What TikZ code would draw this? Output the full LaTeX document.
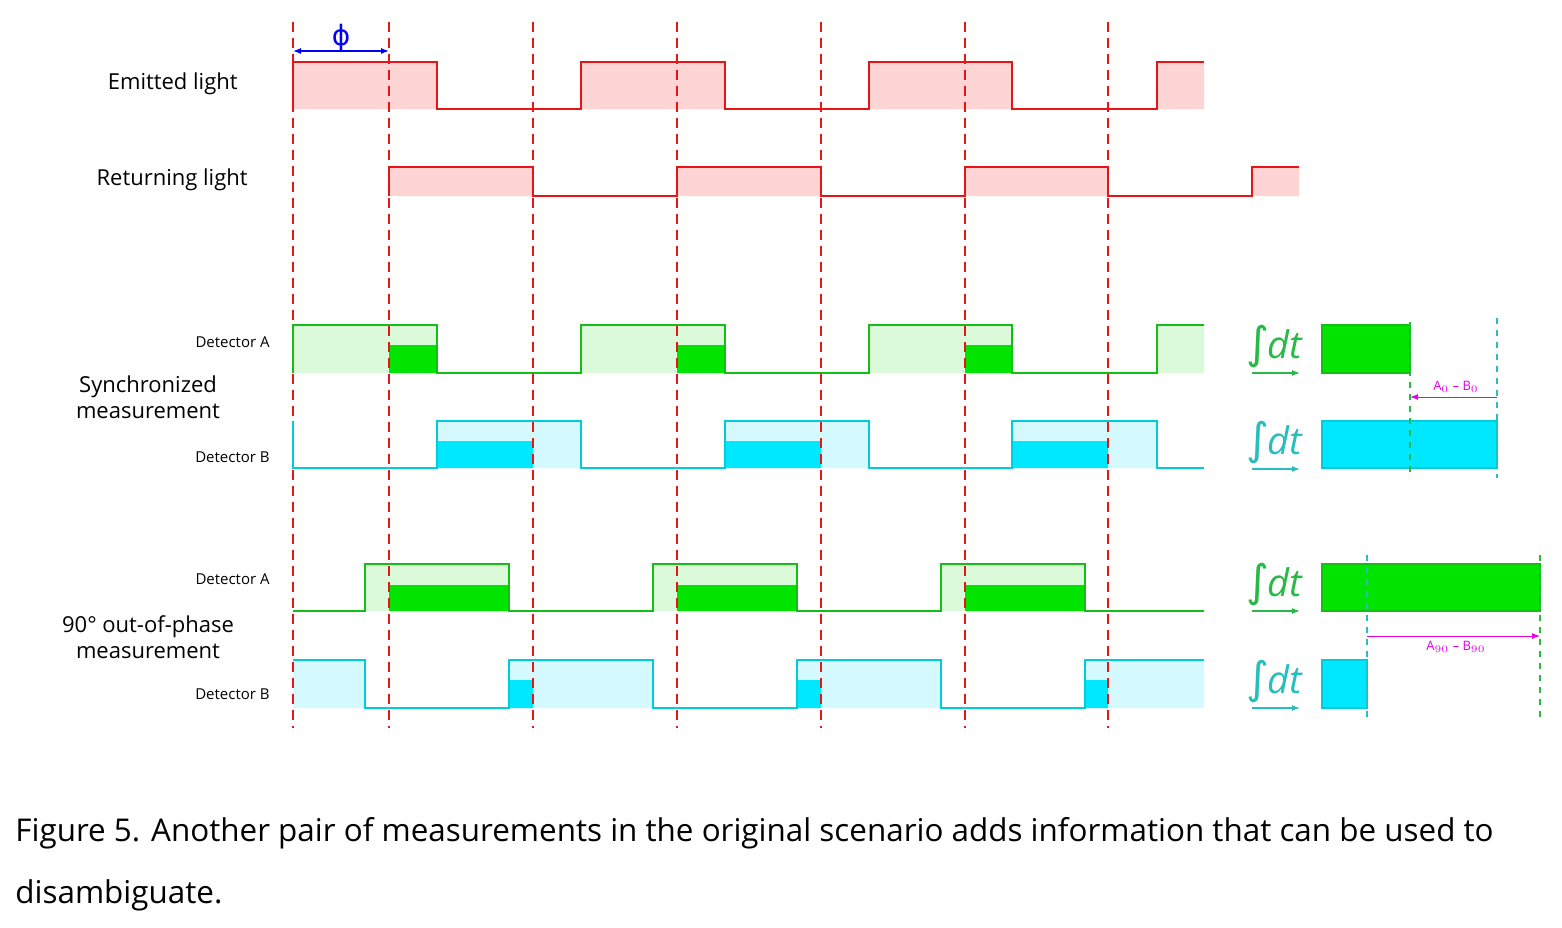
\documentclass[tikz,border=0pt]{standalone}
\usepackage{fontspec}
\setmainfont{Open Sans}
\newfontfamily\djv{DejaVu Sans}
\usetikzlibrary{arrows.meta}
\definecolor{rl}{RGB}{235,20,20}
\definecolor{rf}{RGB}{255,212,212}
\definecolor{gl}{RGB}{20,190,20}
\definecolor{gf}{RGB}{218,250,218}
\definecolor{gd}{RGB}{0,228,0}
\definecolor{cl}{RGB}{0,205,220}
\definecolor{cf}{RGB}{212,250,255}
\definecolor{cd}{RGB}{0,232,255}
\definecolor{gt}{RGB}{40,185,70}
\definecolor{ct}{RGB}{40,190,190}
\definecolor{mg}{RGB}{230,0,230}
\tikzset{x=0.5pt,y=-0.5pt,
 wave/.style={line width=1.4pt,line join=miter},
 guide/.style={rl,dashed,line width=0.7pt,dash pattern=on 5pt off 3pt},
 lab/.style={inner sep=0pt,font=\fontsize{11}{13}\selectfont},
 dlab/.style={inner sep=0pt,anchor=east,font=\fontsize{7.5}{9}\selectfont},
 intl/.style={inner sep=0pt,font=\fontsize{19}{22}\selectfont}}
\begin{document}
\begin{tikzpicture}
\useasboundingbox (0,0) rectangle (1562,927);
% fills
\fill[rf] (293,62) rectangle (437,109) (581,62) rectangle (725,109) (869,62) rectangle (1012,109) (1157,62) rectangle (1204,109);
\fill[rf] (389,167) rectangle (533,196) (677,167) rectangle (821,196) (965,167) rectangle (1108,196) (1252,167) rectangle (1299,196);
\fill[gf] (293,325) rectangle (437,373) (581,325) rectangle (725,373) (869,325) rectangle (1012,373) (1157,325) rectangle (1204,373);
\fill[gd] (389,345) rectangle (437,373) (677,345) rectangle (725,373) (965,345) rectangle (1012,373);
\fill[cf] (437,421) rectangle (581,468) (725,421) rectangle (869,468) (1012,421) rectangle (1157,468);
\fill[cd] (437,441) rectangle (533,468) (725,441) rectangle (821,468) (1012,441) rectangle (1108,468);
\fill[gf] (365,564) rectangle (509,611) (653,564) rectangle (797,611) (941,564) rectangle (1085,611);
\fill[gd] (389,585) rectangle (509,611) (677,585) rectangle (797,611) (965,585) rectangle (1085,611);
\fill[cf] (293,660) rectangle (365,708) (509,660) rectangle (653,708) (797,660) rectangle (941,708) (1085,660) rectangle (1204,708);
\fill[cd] (509,680) rectangle (533,708) (797,680) rectangle (821,708) (1085,680) rectangle (1108,708);
% guides
\foreach \x in {293,389,533,677,821,965,1108} \draw[guide] (\x,22) -- (\x,728);
% waves
\draw[wave,rl] (293,109) -- (293,62) -- (437,62) -- (437,109) -- (581,109) -- (581,62) -- (725,62) -- (725,109) -- (869,109) -- (869,62) -- (1012,62) -- (1012,109) -- (1157,109) -- (1157,62) -- (1204,62);
\draw[wave,rl] (389,196) -- (389,167) -- (533,167) -- (533,196) -- (677,196) -- (677,167) -- (821,167) -- (821,196) -- (965,196) -- (965,167) -- (1108,167) -- (1108,196) -- (1252,196) -- (1252,167) -- (1299,167);
\draw[wave,gl] (293,373) -- (293,325) -- (437,325) -- (437,373) -- (581,373) -- (581,325) -- (725,325) -- (725,373) -- (869,373) -- (869,325) -- (1012,325) -- (1012,373) -- (1157,373) -- (1157,325) -- (1204,325);
\draw[wave,cl] (293,421) -- (293,468) -- (437,468) -- (437,421) -- (581,421) -- (581,468) -- (725,468) -- (725,421) -- (869,421) -- (869,468) -- (1012,468) -- (1012,421) -- (1157,421) -- (1157,468) -- (1204,468);
\draw[wave,gl] (293,611) -- (365,611) -- (365,564) -- (509,564) -- (509,611) -- (653,611) -- (653,564) -- (797,564) -- (797,611) -- (941,611) -- (941,564) -- (1085,564) -- (1085,611) -- (1204,611);
\draw[wave,cl] (293,660) -- (365,660) -- (365,708) -- (509,708) -- (509,660) -- (653,660) -- (653,708) -- (797,708) -- (797,660) -- (941,660) -- (941,708) -- (1085,708) -- (1085,660) -- (1204,660);
% phi
\coordinate (p1) at (293,51); \coordinate (p2) at (389,51);
\draw[blue,line width=0.6pt,{Latex[length=4pt]}-{Latex[length=4pt]}] (p1) -- (p2);
\node[inner sep=0pt,blue,font=\djv\fontsize{14}{14}\selectfont] (phi) at (341,38) {ϕ};
% labels
\node[lab,anchor=east] (em) at (238,84) {Emitted light};
\node[lab,anchor=east] (ret) at (248,180) {Returning light};
\node[dlab] (da1) at (270,342) {Detector A};
\node[dlab] (db1) at (270,457) {Detector B};
\node[dlab] (da2) at (270,579) {Detector A};
\node[dlab] (db2) at (270,694) {Detector B};
\node[lab,align=center] (sync) at (148,397) {Synchronized\\measurement};
\node[lab,align=center] (oop) at (148,637) {90° out-of-phase\\measurement};
% integrators
\foreach \y/\c/\n in {347/gt/i1,443/ct/i2,585/gt/i3,682/ct/i4}{
 \node[intl,text=\c] (\n) at (1275,\y) {{\djv\fontsize{22}{22}\selectfont ∫}\kern-1pt\textit{dt}};
 \draw[\c,line width=0.6pt,-{Latex[length=4pt]}] (1252,\y+26) -- (1300,\y+26);}
\draw[gl,line width=0.8pt,fill=gd] (1322,325) rectangle (1410,373);
\draw[cl,line width=0.8pt,fill=cd] (1322,421) rectangle (1497,468);
\draw[gl,line width=0.8pt,fill=gd] (1322,564) rectangle (1540,611);
\draw[cl,line width=0.8pt,fill=cd] (1322,660) rectangle (1367,708);
\draw[gt,dashed,line width=0.6pt] (1410,322) -- (1410,478);
\draw[ct,dashed,line width=0.6pt] (1497,318) -- (1497,478);
\draw[ct,dashed,line width=0.6pt] (1367,555) -- (1367,718);
\draw[gt,dashed,line width=0.6pt] (1540,555) -- (1540,718);
\coordinate (a1) at (1497,397); \coordinate (a2) at (1410,397);
\draw[mg,line width=0.5pt,-{Latex[length=4pt]}] (a1) -- (a2);
\node[inner sep=0pt,mg,font=\fontsize{6.5}{7}\selectfont] (d0) at (1456,387) {A$_0$ -- B$_0$};
\coordinate (b1) at (1367,636); \coordinate (b2) at (1540,636);
\draw[mg,line width=0.5pt,-{Latex[length=4pt]}] (b1) -- (b2);
\node[inner sep=0pt,mg,font=\fontsize{6.5}{7}\selectfont] (d90) at (1456,647) {A$_{90}$ -- B$_{90}$};
% caption
\node[inner sep=0pt,anchor=west,font=\fontsize{15.7}{16}\selectfont] (c1) at (15,833) {Figure 5. Another pair of measurements in the original scenario adds information that can be used to};
\node[inner sep=0pt,anchor=west,font=\fontsize{15.7}{16}\selectfont] (c2) at (15,895) {disambiguate.};
\end{tikzpicture}
\end{document}
